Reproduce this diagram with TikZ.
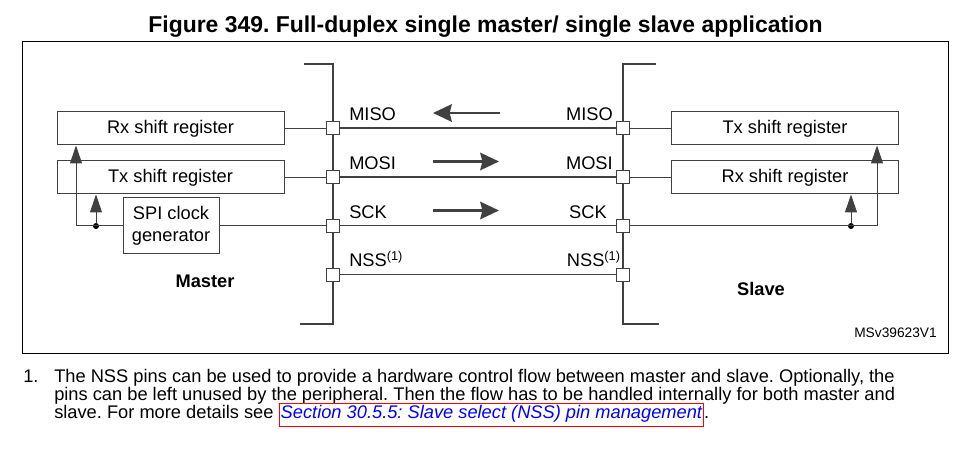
\documentclass[tikz,border=0pt]{standalone}
\usepackage{fontspec}
\setmainfont{Liberation Sans}
\usepackage{tikz}
\usetikzlibrary{arrows.meta,calc,positioning}
\definecolor{wire}{HTML}{404040}
\definecolor{linkblue}{HTML}{0000FF}
\newcommand{\diagfont}{\fontsize{13.7}{16.5}\selectfont}
\frenchspacing
\tikzset{
	lbl/.style={font=\diagfont, inner sep=0pt},
	reg/.style={draw=wire, line width=0.75pt, font=\diagfont, minimum width=170.25pt, minimum height=24.75pt, inner sep=0pt},
	pin/.style={draw=wire, fill=white, line width=0.75pt, minimum size=9.75pt, inner sep=0pt},
	bus/.style={draw=wire, line width=1.5pt},
	sig/.style={draw=wire, line width=0.75pt},
	sigbold/.style={draw=wire, line width=1.5pt},
	flow/.style={draw=wire, line width=2.1pt, -{Stealth[width=13pt,length=14pt,inset=1.5pt]}},
	clk/.style={draw=wire, line width=0.75pt, -{Triangle[width=9pt,length=13.5pt]}},
	dot/.style={circle, fill=black, inner sep=0pt, minimum size=4.5pt},
	link/.style={draw=red, line width=0.75pt, text=linkblue, font=\diagfont\itshape, inner xsep=1pt, inner ysep=0pt, text height=11.25pt, text depth=6pt}
}

\begin{document}
\begin{tikzpicture}[x=0.75pt, y=-0.75pt]
	\useasboundingbox (0,0) rectangle (979,449);
	% Title and frame
	\node [font=\fontsize{17.2}{20}\selectfont\bfseries, anchor=base] (title) at (485.5,33) {Figure 349. Full-duplex single master/ single slave application};
	\draw [line width=0.75pt] (22,42) rectangle (948,353);
	
	% Buses
	\draw [bus] (304,64) -- (333,64) -- (333,324) -- (300,324);
	\draw [bus] (656,64) -- (623,64) -- (623,324) -- (659,324);
	
	% Place nodes
	\node [reg] (mrx) at (170.5,128.5) {Rx shift register};
	\node [reg] (mtx) at (170.5,177.5) {Tx shift register};
	\node [reg, minimum width=72pt, minimum height=42pt, align=center] (mclk) at (171,226) {SPI clock\\generator};
	\node [reg] (stx) at (785,128.5) {Tx shift register};
	\node [reg] (srx) at (785,177.5) {Rx shift register};
	\foreach \name/\y in {miso/128.5, mosi/177.5, sck/226, nss/275} {
		\node [pin] (m\name) at (333,\y) {};
		\node [pin] (s\name) at (623,\y) {};
	}
	\node [dot] (mdot) at (96,226) {};
	\node [dot] (sdot) at (851,226) {};
	\coordinate (mcorner) at (76,226);
	\coordinate (scorner) at (877,226);
	
	% Pin labels
	\node [lbl, anchor=base west] (lmmiso) at (349,121) {MISO};
	\node [lbl, anchor=base west] (lmmosi) at (349,170) {MOSI};
	\node [lbl, anchor=base west] (lmsck) at (349,219) {SCK};
	\node [lbl, anchor=base west] (lmnss) at (349,267) {NSS\textsuperscript{(1)}};
	\node [lbl, anchor=base east] (lsmiso) at (613,121) {MISO};
	\node [lbl, anchor=base east] (lsmosi) at (613,170) {MOSI};
	\node [lbl, anchor=base east] (lssck) at (607,219) {SCK};
	\node [lbl, anchor=base east] (lsnss) at (621,267) {NSS\textsuperscript{(1)}};
	\node [lbl, font=\diagfont\bfseries, anchor=base] (master) at (205,287) {Master};
	\node [lbl, font=\diagfont\bfseries, anchor=base] (slave) at (761,296) {Slave};
	\node [lbl, font=\fontsize{10.3}{12}\selectfont, anchor=base east] (ref) at (937,337.5) {MSv39623V1};
	
	% Draw edges
	\draw [sig] (mrx) -- (mmiso);
	\draw [sig] (mtx) -- (mmosi);
	\draw [sig] (mclk) -- (msck);
	\draw [sigbold] (mmiso) -- (smiso);
	\draw [sigbold] (mmosi) -- (smosi);
	\draw [sig] (msck) -- (ssck);
	\draw [sig] (mnss) -- (snss);
	\draw [sig] (smiso) -- (stx);
	\draw [sig] (smosi) -- (srx);
	\draw [clk] (mclk.west) -- (mcorner) -- (mrx.south -| mcorner);
	\draw [clk] (mdot) -- (mtx.south -| mdot);
	\draw [clk] (ssck) -- (scorner) -- (stx.south -| scorner);
	\draw [clk] (sdot) -- (srx.south -| sdot);
	
	% Direction arrows
	\coordinate (misoa) at (500,113);
	\coordinate (misob) at (433,113);
	\coordinate (mosia) at (433,161.5);
	\coordinate (mosib) at (499,161.5);
	\coordinate (scka) at (433,210.5);
	\coordinate (sckb) at (499,210.5);
	\draw [flow] (misoa) -- (misob);
	\draw [flow] (mosia) -- (mosib);
	\draw [flow] (scka) -- (sckb);
	
	% Note
	\node [lbl, anchor=base west] (fnum) at (23,382) {1.};
	\node [lbl, anchor=base west] (fline1) at (54,382) {The NSS pins can be used to provide a hardware control flow between master and slave. Optionally, the};
	\node [lbl, anchor=base west] (fline2) at (54,400) {pins can be left unused by the peripheral. Then the flow has to be handled internally for both master and};
	\node [lbl, anchor=base west] (fline3) at (54,418) {slave. For more details see};
	\node [link, anchor=base west] (flink) at ([xshift=3.8pt]fline3.base east) {Section 30.5.5: Slave select (NSS) pin management};
	\node [lbl, anchor=base west] (fstop) at (flink.base east) {.};
\end{tikzpicture}
\end{document}
